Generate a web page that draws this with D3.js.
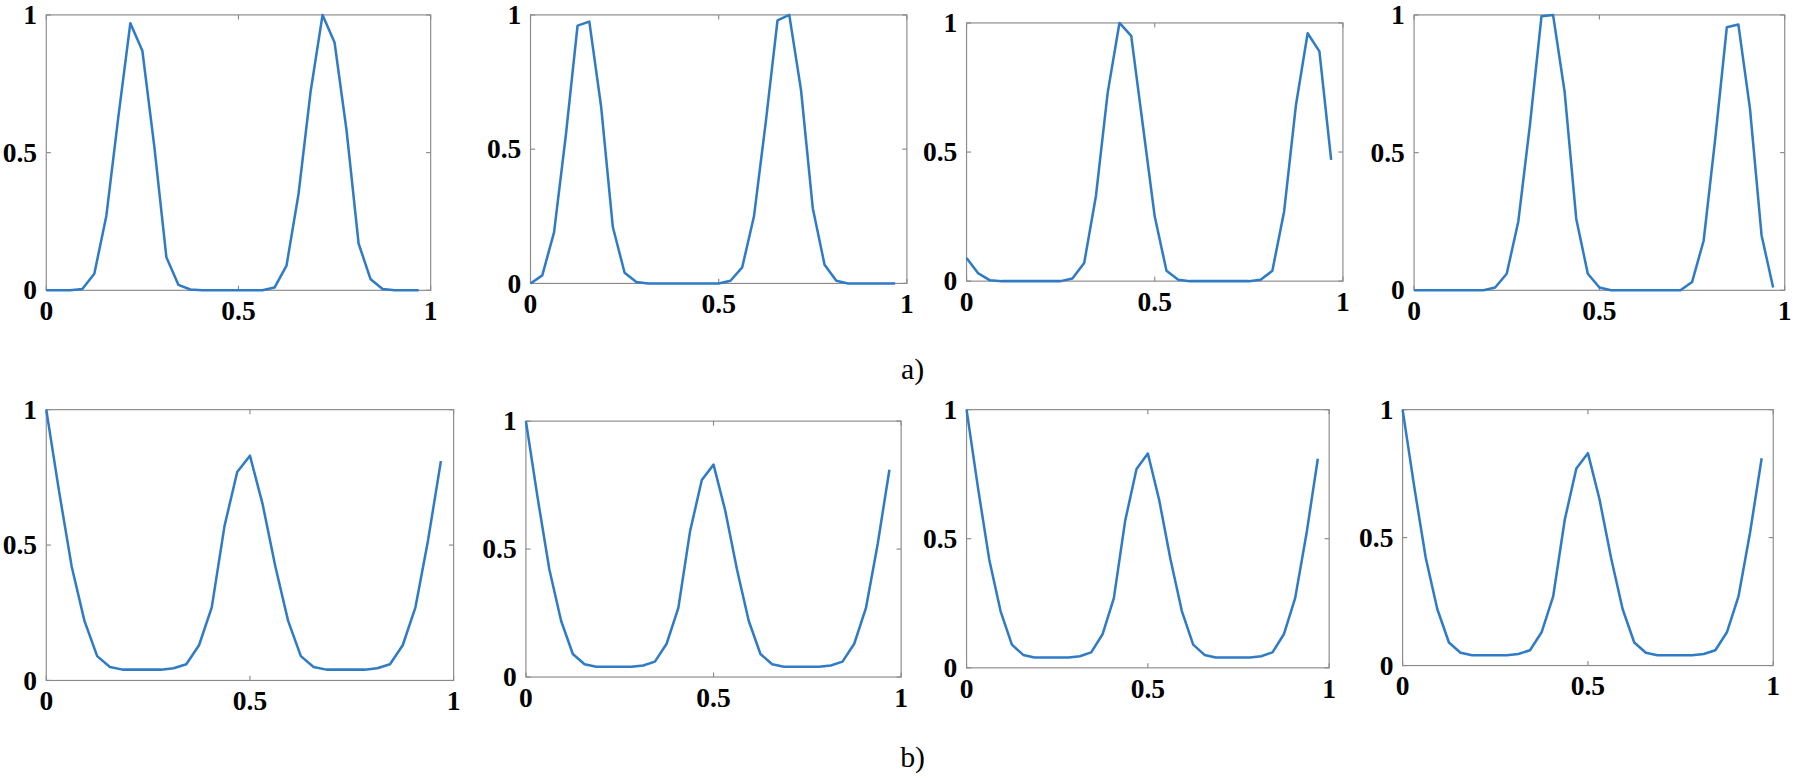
<!DOCTYPE html>
<html><head><meta charset="utf-8">
<script src="https://cdn.jsdelivr.net/npm/d3@7"></script>
<style>body{margin:0;background:#fff}</style>
</head><body>
<script>
// valeurs, 32 points x = i/32
const xs = d3.range(32).map(i => i / 32);
const a1 = [0,0,0,0.005,0.06,0.27,0.63,0.97,0.87,0.52,0.12,0.02,0.003,0,0,0,0,0,0,0.01,0.09,0.35,0.72,1.0,0.9,0.58,0.17,0.04,0.005,0,0,0];
const a2 = [0,0.03,0.19,0.55,0.96,0.975,0.66,0.21,0.04,0.005,0,0,0,0,0,0,0,0.01,0.06,0.25,0.6,0.98,1.0,0.72,0.28,0.07,0.01,0,0,0,0,0];
const a3 = [0.09,0.03,0.003,0,0,0,0,0,0,0.01,0.07,0.33,0.73,1.0,0.95,0.6,0.25,0.04,0.005,0,0,0,0,0,0,0.005,0.04,0.27,0.68,0.96,0.89,0.47];
const a4 = [0,0,0,0,0,0,0,0.01,0.06,0.25,0.6,0.995,1.0,0.72,0.26,0.06,0.01,0,0,0,0,0,0,0,0.03,0.18,0.55,0.955,0.965,0.66,0.2,0.01];
const b = [1,0.7,0.42,0.22,0.09,0.05,0.04,0.04,0.04,0.04,0.045,0.06,0.13,0.27,0.57,0.77,0.83,0.65,0.42,0.22,0.09,0.05,0.04,0.04,0.04,0.04,0.045,0.06,0.13,0.27,0.52,0.81];
const ticks = [0, 0.5, 1];
const tickLabels = ["0", "0.5", "1"];
const rowLabels = ["a)", "b)"];

// boîtes des panneaux (coordonnées de l'image 1568x678)
const panels = [
  {d: a1, x0: 40, x1: 375, y0: 13, y1: 253},
  {d: a2, x0: 462, x1: 790, y0: 13, y1: 247},
  {d: a3, x0: 842, x1: 1170, y0: 20, y1: 245},
  {d: a4, x0: 1232, x1: 1555, y0: 13, y1: 253},
  {d: b, x0: 40, x1: 395, y0: 357, y1: 593},
  {d: b, x0: 458, x1: 785, y0: 367, y1: 590},
  {d: b, x0: 842, x1: 1158, y0: 357, y1: 582},
  {d: b, x0: 1222, x1: 1545, y0: 357, y1: 580}
];

const svg = d3.select("body").append("svg")
  .attr("width", 1800).attr("height", 778)
  .attr("viewBox", "0 0 1568 678");

const font = "'Liberation Serif', serif";

panels.forEach(p => {
  const x = d3.scaleLinear().domain([0, 1]).range([p.x0, p.x1]);
  const y = d3.scaleLinear().domain([0, 1]).range([p.y1, p.y0]);
  const g = svg.append("g");

  g.append("rect").attr("x", p.x0).attr("y", p.y0)
    .attr("width", p.x1 - p.x0).attr("height", p.y1 - p.y0)
    .attr("fill", "none").attr("stroke", "#8a8a8a").attr("stroke-width", 1);

  // petites graduations intérieures
  ticks.forEach(t => {
    g.append("line").attr("x1", x(t)).attr("x2", x(t)).attr("y1", p.y1).attr("y2", p.y1 - 4).attr("stroke", "#8a8a8a");
    g.append("line").attr("x1", x(t)).attr("x2", x(t)).attr("y1", p.y0).attr("y2", p.y0 + 4).attr("stroke", "#8a8a8a");
    g.append("line").attr("y1", y(t)).attr("y2", y(t)).attr("x1", p.x0).attr("x2", p.x0 + 4).attr("stroke", "#8a8a8a");
    g.append("line").attr("y1", y(t)).attr("y2", y(t)).attr("x1", p.x1).attr("x2", p.x1 - 4).attr("stroke", "#8a8a8a");
  });

  g.selectAll(".xl").data(ticks).enter().append("text")
    .attr("x", d => x(d)).attr("y", p.y1 + 26)
    .attr("text-anchor", "middle")
    .attr("font-family", font).attr("font-weight", "bold").attr("font-size", 24)
    .text((d, i) => tickLabels[i]);

  g.selectAll(".yl").data(ticks).enter().append("text")
    .attr("x", p.x0 - 8).attr("y", d => y(d) + 8)
    .attr("text-anchor", "end")
    .attr("font-family", font).attr("font-weight", "bold").attr("font-size", 24)
    .text((d, i) => tickLabels[i]);

  g.append("path").datum(p.d)
    .attr("fill", "none").attr("stroke", "#2f7bc6").attr("stroke-width", 2.2)
    .attr("stroke-linejoin", "round")
    .attr("d", d3.line().x((d, i) => x(xs[i])).y(d => y(d)));
});

svg.selectAll(".rl").data(rowLabels).enter().append("text")
  .attr("x", 795).attr("y", (d, i) => i === 0 ? 330 : 668)
  .attr("text-anchor", "middle")
  .attr("font-family", font).attr("font-size", 26)
  .text(d => d);
</script>
</body></html>
